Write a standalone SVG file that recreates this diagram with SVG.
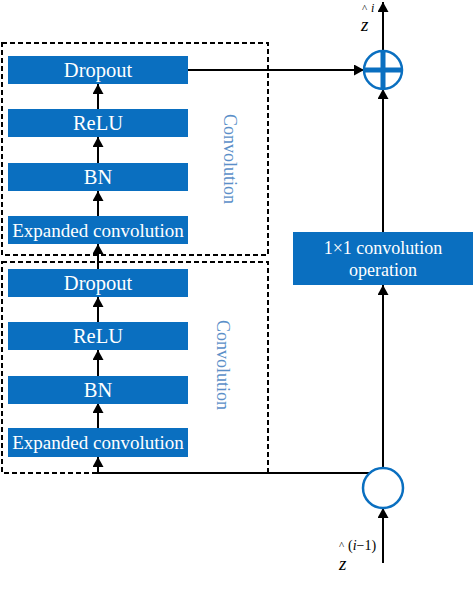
<svg xmlns="http://www.w3.org/2000/svg" width="474" height="591" viewBox="0 0 474 591">
<defs>
<marker id="ah" viewBox="0 0 10 10" refX="10" refY="5" markerWidth="10" markerHeight="11" markerUnits="userSpaceOnUse" orient="auto" preserveAspectRatio="none">
<path d="M0,0 L10,5 L0,10 Z" fill="#000"/>
</marker>
<style>
.box{fill:#0a6fc0}
.t{fill:#fff;font-family:"Liberation Serif","Times New Roman",serif;font-size:20.5px;text-anchor:middle}
.dash{fill:none;stroke:#000;stroke-width:2;stroke-dasharray:5 3}
.ln{fill:none;stroke:#000;stroke-width:2}
.lab{fill:#5b8fc8;font-family:"Liberation Serif","Times New Roman",serif;font-size:18px;text-anchor:middle}
.m{font-family:"Liberation Serif","Times New Roman",serif;fill:#000}
.circ{fill:#fff;stroke:#0a6fc0;stroke-width:2.5}
</style>
</defs>
<rect width="474" height="591" fill="#fff"/>
<g id="group1">
<rect class="dash" x="2" y="43" width="266" height="212"/>
<text class="lab" transform="translate(224,159) rotate(90)">Convolution</text>
</g>
<g id="group2">
<rect class="dash" x="2" y="262" width="266" height="211"/>
<text class="lab" transform="translate(217,365) rotate(90)">Convolution</text>
</g>
<g id="connectors">
<line class="ln" x1="98" y1="109" x2="98" y2="84" marker-end="url(#ah)"/>
<line class="ln" x1="98" y1="163" x2="98" y2="137" marker-end="url(#ah)"/>
<line class="ln" x1="98" y1="216" x2="98" y2="191" marker-end="url(#ah)"/>
<line class="ln" x1="98" y1="269" x2="98" y2="244" marker-end="url(#ah)"/>
<line class="ln" x1="98" y1="322" x2="98" y2="297" marker-end="url(#ah)"/>
<line class="ln" x1="98" y1="376" x2="98" y2="350" marker-end="url(#ah)"/>
<line class="ln" x1="98" y1="428" x2="98" y2="403" marker-end="url(#ah)"/>
<polyline class="ln" points="370,473 98,473 98,457" marker-end="url(#ah)"/>
<line class="ln" x1="188" y1="70" x2="364" y2="70" marker-end="url(#ah)"/>
<line class="ln" x1="383" y1="232" x2="383" y2="89" marker-end="url(#ah)"/>
<line class="ln" x1="383" y1="469" x2="383" y2="285" marker-end="url(#ah)"/>
<line class="ln" x1="383" y1="51" x2="383" y2="2" marker-end="url(#ah)"/>
<line class="ln" x1="383" y1="563" x2="383" y2="508" marker-end="url(#ah)"/>
</g>
<g id="dropout1"><rect class="box" x="8" y="56" width="180" height="28"/><text class="t" x="98" y="77">Dropout</text></g>
<g id="relu1"><rect class="box" x="8" y="109" width="180" height="28"/><text class="t" x="98" y="130">ReLU</text></g>
<g id="bn1"><rect class="box" x="8" y="163" width="180" height="28"/><text class="t" x="98" y="184">BN</text></g>
<g id="expconv1"><rect class="box" x="8" y="216" width="180" height="28"/><text class="t" x="98" y="237" style="font-size:19px">Expanded convolution</text></g>
<g id="dropout2"><rect class="box" x="8" y="269" width="180" height="28"/><text class="t" x="98" y="290">Dropout</text></g>
<g id="relu2"><rect class="box" x="8" y="322" width="180" height="28"/><text class="t" x="98" y="343">ReLU</text></g>
<g id="bn2"><rect class="box" x="8" y="376" width="180" height="28"/><text class="t" x="98" y="397">BN</text></g>
<g id="expconv2"><rect class="box" x="8" y="428" width="180" height="29"/><text class="t" x="98" y="449" style="font-size:19px">Expanded convolution</text></g>
<g id="conv1x1"><rect class="box" x="293" y="232" width="180" height="53"/><text class="t" x="383" y="254" style="font-size:18px">1×1 convolution</text><text class="t" x="383" y="276" style="font-size:18px">operation</text></g>
<g id="add">
<circle class="circ" cx="383" cy="70" r="19"/>
<rect x="365" y="67.5" width="36" height="5" fill="#0a6fc0"/>
<rect x="380.5" y="52" width="5" height="37" fill="#0a6fc0"/>
</g>
<g id="split"><circle class="circ" cx="383" cy="488" r="20"/></g>
<g id="labels">
<text class="m" x="362" y="11.5" font-size="11">^</text>
<text class="m" x="371" y="12" font-size="12" font-style="italic">i</text>
<text class="m" x="361" y="31" font-size="19" font-style="italic">z</text>
<text class="m" x="339" y="549" font-size="11">^</text>
<text class="m" x="348" y="550" font-size="14">(<tspan font-style="italic">i</tspan>−1)</text>
<text class="m" x="339" y="570" font-size="19" font-style="italic">z</text>
</g>
</svg>
